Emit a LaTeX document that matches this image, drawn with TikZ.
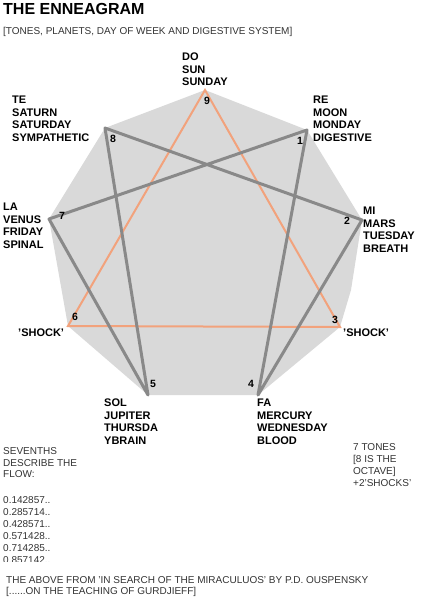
\documentclass[tikz,border=0pt]{standalone}
\usepackage{fontspec}
\setmainfont{Liberation Sans}
\definecolor{polyfill}{HTML}{D9D9D9}
\definecolor{grayline}{HTML}{898989}
\definecolor{orangeline}{HTML}{F2A27C}
\definecolor{lighttext}{HTML}{333333}
\tikzset{
  lbl/.style={anchor=north west, inner sep=0pt, align=left, font=\bfseries\fontsize{11}{12.5}\selectfont},
  num/.style={inner sep=0pt, font=\bfseries\fontsize{10.5}{12}\selectfont},
  light/.style={anchor=north west, inner sep=0pt, align=left, text=lighttext, font=\fontsize{10}{11.6}\selectfont},
  grayedge/.style={draw=grayline, line width=3pt, line join=round},
  orangeedge/.style={draw=orangeline, line width=2pt, line join=miter},
}
\begin{document}
\begin{tikzpicture}[x=1pt,y=-1pt]
\useasboundingbox (0,0) rectangle (428,599);
% vertices
\coordinate (v9) at (205,90);
\coordinate (v1) at (307,130);
\coordinate (v2) at (362,220);
\coordinate (v3) at (340,327);
\coordinate (v4) at (258,395);
\coordinate (v5) at (148,395);
\coordinate (v6) at (68,326);
\coordinate (v7) at (49,219);
\coordinate (v8) at (105,128);
% background nonagon
\fill[polyfill] (v9) -- (v1) -- (v2) -- (351,290) -- (v3) -- (v4) -- (v5) -- (v6) -- (v7) -- (v8) -- cycle;
% orange triangle
\draw[orangeedge] (v9) -- (v3) -- (v6) -- cycle;
% gray hexad
\draw[grayedge] (v1) -- (v4) -- (v2) -- (v8) -- (v5) -- (v7) -- cycle;
% numbers
\node[num] (n9) at (207,101) {9};
\node[num] (n1) at (300,141) {1};
\node[num] (n2) at (347,221) {2};
\node[num] (n3) at (335,320) {3};
\node[num] (n4) at (251,384) {4};
\node[num] (n5) at (153,384) {5};
\node[num] (n6) at (75,317) {6};
\node[num] (n7) at (62,216) {7};
\node[num] (n8) at (113,139) {8};
% title
\node[anchor=west, inner sep=0pt, font=\bfseries\fontsize{16}{18}\selectfont] (title) at (3,9) {THE ENNEAGRAM};
\node[anchor=west, inner sep=0pt, text=lighttext, font=\fontsize{10}{12}\selectfont] (subtitle) at (3,32) {[TONES, PLANETS, DAY OF WEEK AND DIGESTIVE SYSTEM]};
% labels
\node[lbl] (l9) at (182,53) {DO\\SUN\\SUNDAY};
\node[lbl] (l8) at (12,96) {TE\\SATURN\\SATURDAY\\SYMPATHETIC};
\node[lbl] (l1) at (313,96) {RE\\MOON\\MONDAY\\DIGESTIVE};
\node[lbl] (l7) at (3,203) {LA\\VENUS\\FRIDAY\\SPINAL};
\node[lbl] (l2) at (363,207) {MI\\MARS\\TUESDAY\\BREATH};
\node[lbl, anchor=west] (l6) at (18,333) {'SHOCK'};
\node[lbl, anchor=west] (l3) at (343,333) {'SHOCK'};
\node[lbl] (l5) at (104,399) {SOL\\JUPITER\\THURSDA\\YBRAIN};
\node[lbl] (l4) at (257,399) {FA\\MERCURY\\WEDNESDAY\\BLOOD};
% lower texts
\node[light] (sev) at (3,447.5) {SEVENTHS\\DESCRIBE THE\\FLOW:};
\begin{scope}
\clip (0,490) rectangle (120,561);
\node[light, font=\fontsize{10}{11.9}\selectfont] (flow) at (3,496.5) {0.142857..\\0.285714..\\0.428571..\\0.571428..\\0.714285..\\0.857142..};
\end{scope}
\node[light, font=\fontsize{10}{12}\selectfont] (tones) at (353,443.5) {7 TONES\\{}[8 IS THE\\OCTAVE]\\+2'SHOCKS'};
\node[anchor=west, inner sep=0pt, text=lighttext, font=\fontsize{10}{12}\selectfont] (src1) at (6,580) {THE ABOVE FROM 'IN SEARCH OF THE MIRACULUOS' BY P.D. OUSPENSKY};
\node[anchor=west, inner sep=0pt, text=lighttext, font=\fontsize{10}{12}\selectfont] (src2) at (6,592) {[......ON THE TEACHING OF GURDJIEFF]};
\end{tikzpicture}
\end{document}
